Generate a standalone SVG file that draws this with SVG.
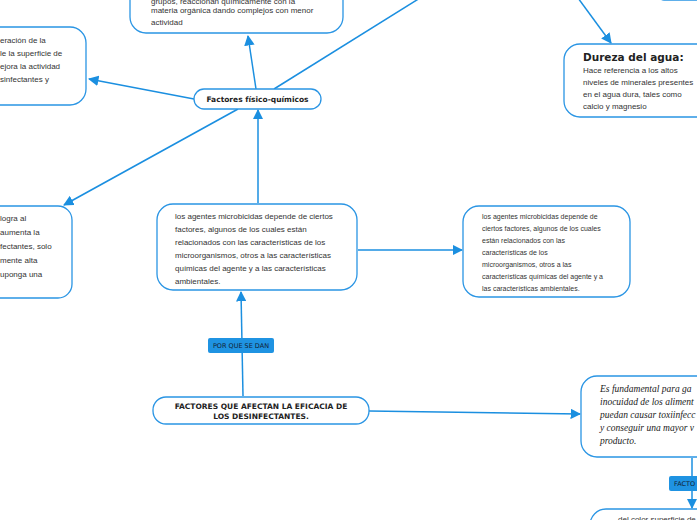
<svg xmlns="http://www.w3.org/2000/svg" width="697" height="520" viewBox="0 0 697 520">
<defs>
<marker id="ar" viewBox="0 0 10 10" refX="9" refY="5" markerWidth="7" markerHeight="7" orient="auto-start-reverse"><path d="M0,0 L10,5 L0,10 z" fill="#1b8fe0"/></marker>
<style>
.n{fill:#fff;stroke:#2a95e4;stroke-width:1.3}
.c{stroke:#1b8fe0;stroke-width:1.5;fill:none}
.t{font-family:"Liberation Sans",sans-serif;font-size:8px;fill:#333}
.b{font-family:"DejaVu Sans",sans-serif;font-size:7.5px;font-weight:bold;fill:#222}
.l{fill:#1f93e2}
.lt{font-family:"DejaVu Sans",sans-serif;font-size:6.5px;fill:#123}
</style>
</defs>
<rect width="697" height="520" fill="#fff"/>
<g id="connectors">
<line class="c" x1="256" y1="89" x2="248" y2="36" marker-end="url(#ar)"/>
<line class="c" x1="194" y1="99" x2="89" y2="79" marker-end="url(#ar)"/>
<line class="c" x1="274" y1="89" x2="420" y2="-2"/>
<line class="c" x1="578" y1="-2" x2="611" y2="43" marker-end="url(#ar)"/>
<line class="c" x1="238" y1="109" x2="64" y2="205" marker-end="url(#ar)"/>
<line class="c" x1="258" y1="203" x2="258" y2="110" marker-end="url(#ar)"/>
<line class="c" x1="243" y1="396" x2="241" y2="292" marker-end="url(#ar)"/>
<line class="c" x1="358" y1="250" x2="462" y2="250" marker-end="url(#ar)"/>
<line class="c" x1="369" y1="411" x2="580" y2="414" marker-end="url(#ar)"/>
<line class="c" x1="692" y1="458" x2="692" y2="508" marker-end="url(#ar)"/>
</g>
<g id="n-top"><rect class="n" x="130" y="-30" width="213" height="63" rx="16"/>
<text class="t" x="151" y="4">grupos, reaccionan químicamente con la</text>
<text class="t" x="151" y="13">materia orgánica dando complejos con menor</text>
<text class="t" x="151" y="25">actividad</text></g>
<g id="n-topleft"><rect class="n" x="-30" y="27" width="116" height="78" rx="16"/>
<text class="t" x="0" y="43">eración de la</text>
<text class="t" x="0" y="56">le la superficie de</text>
<text class="t" x="0" y="69">ejora la actividad</text>
<text class="t" x="0" y="82">sinfectantes y</text></g>
<g id="n-fq"><rect class="n" x="194" y="89" width="127" height="20" rx="10"/>
<text class="b" x="257.5" y="102" text-anchor="middle">Factores físico-químicos</text></g>
<g id="n-topright"><rect class="n" x="658" y="-20" width="60" height="20" rx="6"/></g>
<g id="n-dureza"><rect class="n" x="564" y="44" width="150" height="73" rx="16"/>
<text x="583" y="61" style="font-family:'DejaVu Sans',sans-serif;font-size:10.5px;font-weight:bold;fill:#222">Dureza del agua:</text>
<text class="t" x="583" y="73">Hace referencia a los altos</text>
<text class="t" x="583" y="85">niveles de minerales presentes</text>
<text class="t" x="583" y="97">en el agua dura, tales como</text>
<text class="t" x="583" y="109">calcio y magnesio</text></g>
<g id="n-leftmid"><rect class="n" x="-30" y="206" width="102" height="92" rx="14"/>
<text class="t" x="0" y="221">logra al</text>
<text class="t" x="0" y="235">aumenta la</text>
<text class="t" x="0" y="249">fectantes, solo</text>
<text class="t" x="0" y="263">mente alta</text>
<text class="t" x="0" y="277">uponga una</text></g>
<g id="n-center"><rect class="n" x="157" y="204" width="200" height="86" rx="16"/>
<text class="t" x="175" y="219">los agentes microbicidas depende de ciertos</text>
<text class="t" x="175" y="232">factores, algunos de los cuales están</text>
<text class="t" x="175" y="245">relacionados con las características de los</text>
<text class="t" x="175" y="258">microorganismos, otros a las características</text>
<text class="t" x="175" y="271">químicas del agente y a las características</text>
<text class="t" x="175" y="284">ambientales.</text></g>
<g id="n-rightmid"><rect class="n" x="463" y="206" width="167" height="91" rx="16"/>
<g style="font-family:'Liberation Sans',sans-serif;font-size:7px;fill:#333">
<text x="482" y="219">los agentes microbicidas depende de</text>
<text x="482" y="231">ciertos factores, algunos de los cuales</text>
<text x="482" y="243">están relacionados con las</text>
<text x="482" y="255">características de los</text>
<text x="482" y="267">microorganismos, otros a las</text>
<text x="482" y="279">características químicas del agente y a</text>
<text x="482" y="291">las características ambientales.</text></g></g>
<g id="l-por"><rect class="l" x="208" y="338" width="66" height="15" rx="2"/>
<text class="lt" x="241" y="348" text-anchor="middle">POR QUE SE DAN</text></g>
<g id="n-main"><rect class="n" x="153" y="397" width="216" height="27" rx="13"/>
<text class="b" x="261" y="409" text-anchor="middle">FACTORES QUE AFECTAN LA EFICACIA DE</text>
<text class="b" x="261" y="419" text-anchor="middle">LOS DESINFECTANTES.</text></g>
<g id="n-esfund"><rect class="n" x="581" y="376" width="140" height="81" rx="16"/>
<g style="font-family:'Liberation Serif',serif;font-style:italic;font-size:9.5px;fill:#222">
<text x="600" y="392">Es fundamental  para ga</text>
<text x="600" y="405">inocuidad de los aliment</text>
<text x="600" y="418">puedan causar toxiinfecc</text>
<text x="600" y="431">y conseguir una mayor v</text>
<text x="600" y="444">producto.</text></g></g>
<g id="l-facto"><rect class="l" x="669" y="476" width="40" height="15" rx="2"/>
<text class="lt" x="674" y="486">FACTO</text></g>
<g id="n-bottom"><rect class="n" x="590" y="509" width="130" height="40" rx="16"/>
<text class="t" x="618" y="522">del color superficie de</text></g>
</svg>
